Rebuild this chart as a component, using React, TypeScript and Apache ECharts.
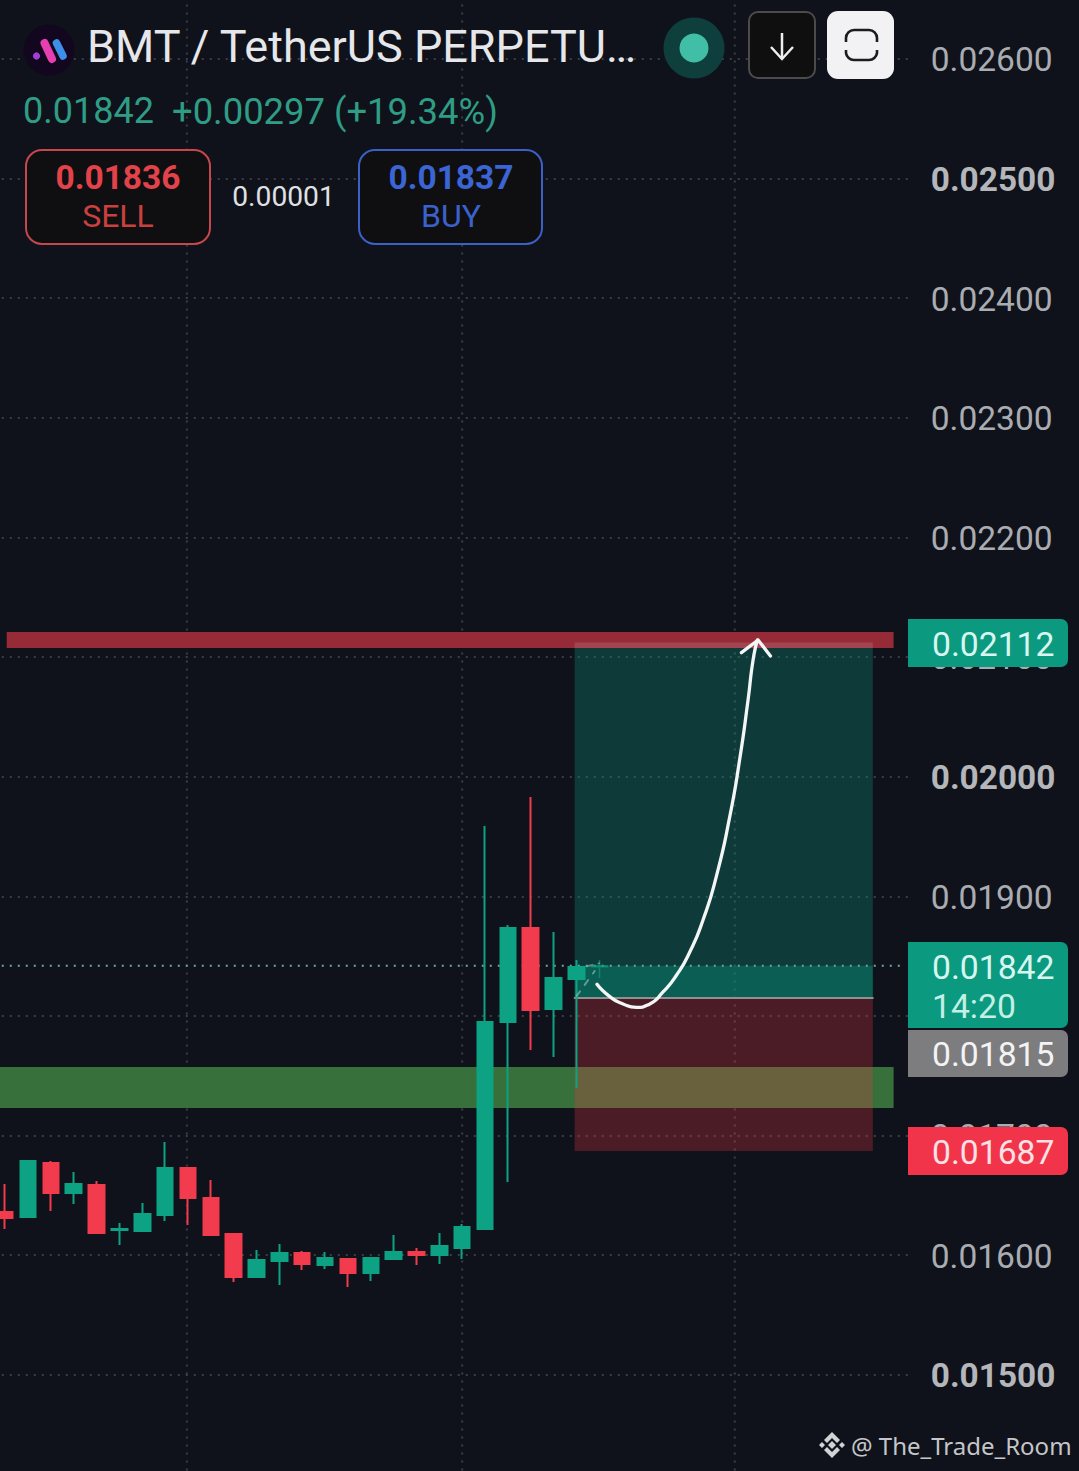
import React, { useEffect, useRef } from "react";
import * as echarts from "echarts";

// ---- chart data ----
const slots = ["0","1","2","3","4","5","6","7","8","9","10","11","12","13","14","15","16","17","18","19","20","21","22","23","24","25","26","27","28","29","30","31","32","33","34","35","36","37","38","39"];
// [open, close, low, high]
const candles = [
  [0.016361, 0.016311, 0.016219, 0.016595],
  [0.01632, 0.016788, 0.016312, 0.016796],
  [0.016771, 0.01652, 0.01637, 0.016788],
  [0.01652, 0.016595, 0.016428, 0.016696],
  [0.016587, 0.016186, 0.016178, 0.01662],
  [0.016211, 0.016219, 0.016086, 0.016269],
  [0.016203, 0.016345, 0.016194, 0.016437],
  [0.016336, 0.016729, 0.016286, 0.016946],
  [0.016729, 0.016478, 0.016253, 0.016729],
  [0.016478, 0.016169, 0.016161, 0.016629],
  [0.016178, 0.015818, 0.015776, 0.016186],
  [0.015818, 0.01596, 0.015818, 0.016044],
  [0.015952, 0.016019, 0.015751, 0.016094],
  [0.016019, 0.015927, 0.015877, 0.016035],
  [0.015918, 0.015977, 0.015885, 0.016027],
  [0.015969, 0.015852, 0.015735, 0.015977],
  [0.015852, 0.015977, 0.015785, 0.015977],
  [0.015969, 0.016027, 0.015969, 0.016169],
  [0.016027, 0.016002, 0.015918, 0.01606],
  [0.016002, 0.016077, 0.015927, 0.016186],
  [0.01606, 0.016236, 0.015969, 0.016261],
  [0.016219, 0.017949, 0.016219, 0.019587],
  [0.017949, 0.018735, 0.016612, 0.01876],
  [0.018735, 0.01805, 0.017715, 0.019829],
  [0.018058, 0.018317, 0.017657, 0.018701],
  [0.018309, 0.018409, 0.017398, 0.018467],
];
const liveCandle = [0.01841, 0.01842, 0.018317, 0.018467];
const verticalGridSlots = [7.95, 20.0, 31.93];
const priceFloor = 0.014;
const priceCeiling = 0.027;
const lastPrice = 0.01842;
const lastPriceLine = [[-0.5, lastPrice], [39.4, lastPrice]];
// trade levels
const takeProfit = 0.02112;
const entryPrice = 0.01815;
const stopLoss = 0.01687;
// [slot start, slot end, upper price, lower price]
const resistanceBand = [0.066, 38.88, 0.021209, 0.021075];
const supportBand = [-0.5, 38.88, 0.017573, 0.01723];
const profitZone = [24.92, 37.97, takeProfit, entryPrice];
const lossZone = [24.92, 37.97, entryPrice, stopLoss];
const openProfitZone = [24.92, 37.97, lastPrice, entryPrice];
const zoneBandOverlap = [24.92, 37.97, takeProfit, 0.021075];
// drawn path
const curvePath = [
  [25.9, 0.018264], [26.46, 0.018161], [27.04, 0.0181], [27.62, 0.018072], [28.21, 0.0181],
  [28.79, 0.0182], [29.37, 0.018338], [29.96, 0.018534], [30.54, 0.018802], [31.12, 0.019164],
  [31.71, 0.019665], [32.14, 0.020139], [32.51, 0.02064], [32.73, 0.020975], [32.92, 0.021142],
];
const arrowHead = [[32.22, 0.021036], [32.95, 0.021142], [33.49, 0.021008]];
const dashedTrail = [[25.0, 0.018165], [25.8, 0.018375]];
const dashedStub = [[25.45, 0.018415], [26.0, 0.01844]];
const entryLine = [[24.92, entryPrice], [37.97, entryPrice]];

const FONT = "Roboto";
const BG = "#0f121a";
const UP = "#0da284";
const DOWN = "#f23b4d";

const zone = (range: number[], fill: string, z: number) => ({
  type: "custom",
  xAxisIndex: 1,
  yAxisIndex: 0,
  z,
  silent: true,
  data: [range],
  encode: { x: [0, 1], y: [2, 3] },
  renderItem: (_p: any, api: any) => {
    const a = api.coord([api.value(0), api.value(2)]);
    const b = api.coord([api.value(1), api.value(3)]);
    return { type: "rect", shape: { x: a[0], y: a[1], width: b[0] - a[0], height: b[1] - a[1] }, style: { fill } };
  },
});

const path = (data: number[][], color: string, width: number, z: number, extra: any = {}) => ({
  type: "line",
  xAxisIndex: 1,
  yAxisIndex: 0,
  data,
  z,
  silent: true,
  symbol: "none",
  lineStyle: { color, width, cap: extra.cap ?? "round", join: "round", ...extra.lineStyle },
  smooth: extra.smooth ?? false,
});

const text = (t: string, x: number, y: number, size: number, fill: string, opt: any = {}) => ({
  type: "text",
  x,
  y,
  z: 100,
  silent: true,
  style: {
    text: t,
    fill,
    fontSize: size,
    fontFamily: opt.family ?? FONT,
    fontWeight: opt.weight ?? 400,
    align: opt.align ?? "left",
    textAlign: opt.align ?? "left",
    verticalAlign: "middle",
    textVerticalAlign: "middle",
  },
});

const roundRect = (x: number, y: number, w: number, h: number, r: any, fill: string, stroke?: string, lw = 2) => ({
  type: "rect",
  z: 99,
  silent: true,
  shape: { x, y, width: w, height: h, r },
  style: { fill, stroke, lineWidth: stroke ? lw : 0 },
});

const registerShapes = () => {
  echarts.graphic.registerShape(
    "scanIcon",
    echarts.graphic.extendPath("M846 42 V38 A8 8 0 0 1 854 30 H869 A8 8 0 0 1 877 38 V42 M846 50 V53 A8 8 0 0 0 854 60 H869 A8 8 0 0 0 877 53 V50", {})
  );
  echarts.graphic.registerShape(
    "bnbMark",
    echarts.graphic.extendPath(
      "M832 1432 L840 1440 L837 1443 L832 1438 L827 1443 L824 1440 Z M832 1458 L840 1450 L837 1447 L832 1452 L827 1447 L824 1450 Z M832 1441 L836 1445 L832 1449 L828 1445 Z M822 1442 L825 1445 L822 1448 L819 1445 Z M842 1442 L845 1445 L842 1448 L839 1445 Z",
      {}
    )
  );
};

export default function App() {
  const ref = useRef<HTMLDivElement>(null);
  useEffect(() => {
    document.body.style.margin = "0";
    document.body.style.background = BG;
    document.body.style.overflow = "hidden";
    registerShapes();
    const chart = echarts.init(ref.current!, undefined, { renderer: "svg" });
    const gridLine = { color: "#3c3e46", width: 2, type: [2, 6] as number[] };
    chart.setOption({
      animation: false,
      backgroundColor: BG,
      grid: { left: -6.23, top: -60.95, width: 914, height: 1555.45, outerBoundsMode: "none", containLabel: false },
      xAxis: [
        { type: "category", data: slots, show: false, boundaryGap: true },
        { type: "value", min: -0.5, max: 39.5, show: false, splitLine: { show: false } },
      ],
      yAxis: {
        type: "value",
        position: "right",
        min: priceFloor,
        max: priceCeiling,
        interval: 0.001,
        axisLine: { show: false },
        axisTick: { show: false },
        splitLine: { show: true, lineStyle: gridLine },
        axisLabel: {
          margin: 23,
          align: "left",
          padding: [2, 0, 0, 0],
          fontFamily: FONT,
          fontSize: 33.5,
          color: "#a9acb1",
          formatter: (v: number) => {
            if (v <= priceFloor + 1e-7 || v >= priceCeiling - 1e-7) return "";
            const s = v.toFixed(5);
            return Math.round(v * 1e5) % 500 === 0 ? `{b|${s}}` : s;
          },
          rich: { b: { fontFamily: FONT, fontSize: 33.4, fontWeight: 700, color: "#b4b6ba" } },
        },
      },
      series: [
        ...verticalGridSlots.map((s) =>
          path([[s, priceFloor], [s, priceCeiling]], gridLine.color, gridLine.width, 1, { cap: "butt", lineStyle: { type: gridLine.type } })
        ),
        zone(supportBand, "#37703a", 2),
        zone(profitZone, "rgba(12,153,129,0.3)", 3),
        zone(lossZone, "rgba(242,54,69,0.27)", 3),
        zone(openProfitZone, "rgba(8,153,129,0.38)", 3),
        zone(resistanceBand, "#962a36", 3),
        zone(zoneBandOverlap, "rgba(255,255,255,0.13)", 3),
        path(lastPriceLine, "#6fa89b", 2, 4, { cap: "butt", lineStyle: { type: [2, 6] } }),
        path(entryLine, "#8f9291", 2, 4),
        {
          type: "candlestick",
          xAxisIndex: 0,
          yAxisIndex: 0,
          z: 5,
          barWidth: 16,
          silent: true,
          itemStyle: { color: UP, color0: DOWN, borderColor: UP, borderColor0: DOWN, borderWidth: 2 },
          data: [
            ...candles,
            { value: liveCandle, itemStyle: { color: "rgba(13,162,132,0.6)", borderColor: "rgba(13,162,132,0.6)", borderWidth: 1.5 } },
          ],
        },
        path(dashedTrail, "rgba(120,190,170,0.7)", 2, 6, { lineStyle: { type: [6, 8] } }),
        path(dashedStub, "rgba(120,190,170,0.6)", 2, 6, { lineStyle: { type: [6, 6] } }),
        path(curvePath, "#f4f6f6", 3.3, 7, { smooth: 0.6 }),
        path(arrowHead, "#f4f6f6", 3.3, 7),
      ],
      graphic: [
        { type: "circle", z: 99, silent: true, shape: { cx: 49, cy: 50, r: 25.5 }, style: { fill: "#13071f" } },
        { type: "circle", z: 100, silent: true, shape: { cx: 36.5, cy: 56, r: 3.6 }, style: { fill: "#a23ed6" } },
        { type: "line", z: 100, silent: true, shape: { x1: 44.5, y1: 43, x2: 52, y2: 59 }, style: { stroke: "#e63fb0", lineWidth: 8, lineCap: "round" } },
        { type: "line", z: 100, silent: true, shape: { x1: 56.5, y1: 43, x2: 63, y2: 56 }, style: { stroke: "#3d8fea", lineWidth: 7.5, lineCap: "round" } },
        text("BMT / TetherUS PERPETU…", 87, 46, 45, "#e6e7ea"),
        text("0.01842", 23, 111, 36, "#2f9d85"),
        text("+0.00297 (+19.34%)", 172, 111, 36.4, "#2f9d85"),

        roundRect(26, 150, 184, 94, 16, "#0f0f11", "#c6474c"),
        text("0.01836", 118, 177, 33.5, "#e2434a", { align: "center", weight: 700 }),
        text("SELL", 118, 216, 32, "#c9403f", { align: "center" }),
        text("0.00001", 283.5, 196, 28.2, "#e0e1e4", { align: "center" }),
        roundRect(359, 150, 183, 94, 16, "#0f0f11", "#3b60c6"),
        text("0.01837", 451, 177, 33.5, "#3b64d4", { align: "center", weight: 700 }),
        text("BUY", 451, 216, 32, "#3b62cc", { align: "center" }),

        { type: "circle", z: 99, silent: true, shape: { cx: 694, cy: 48, r: 30.5 }, style: { fill: "#0f3f3c" } },
        { type: "circle", z: 100, silent: true, shape: { cx: 694, cy: 48, r: 14.5 }, style: { fill: "#41bfa6" } },
        roundRect(749, 12, 66, 66, 9, "#0f0f0f", "#4b4b4b"),
        { type: "polyline", z: 100, silent: true, shape: { points: [[782, 33], [782, 59]] }, style: { stroke: "#eeeeee", lineWidth: 2.5, fill: "none" } },
        { type: "polyline", z: 100, silent: true, shape: { points: [[771, 47], [782, 59], [793, 47]] }, style: { stroke: "#eeeeee", lineWidth: 2.5, fill: "none" } },
        roundRect(827, 11, 67, 68, 11, "#f2f2f4"),
        { type: "scanIcon", z: 100, silent: true, x: 0, y: 0, scaleX: 1, scaleY: 1, style: { stroke: "#1c1c1e", lineWidth: 2.6, fill: "none" } },

        roundRect(908, 619, 160, 48, [0, 7, 7, 0], "#0b9a80"),
        text(takeProfit.toFixed(5), 932, 644, 33.7, "#d8f6ef"),
        roundRect(908, 942, 160, 86, [0, 7, 7, 0], "#0b9a80"),
        text(lastPrice.toFixed(5), 932, 967, 33.7, "#d8f6ef"),
        text("14:20", 932, 1006, 33.7, "#c4efe5"),
        roundRect(908, 1030, 160, 47, [0, 7, 7, 0], "#7d7d7f"),
        text(entryPrice.toFixed(5), 932, 1054, 33.7, "#f3f3f3"),
        roundRect(908, 1127, 160, 48, [0, 7, 7, 0], "#f2344a"),
        text(stopLoss.toFixed(5), 932, 1152, 33.7, "#f9e1e4"),

        { type: "bnbMark", z: 100, silent: true, x: 0, y: 0, scaleX: 1, scaleY: 1, style: { fill: "#d2d3d6" } },
        text("@ The_Trade_Room", 851, 1445, 24, "#c4c6c9", { family: "Noto Sans" }),
      ],
    });
    return () => chart.dispose();
  }, []);
  return <div ref={ref} style={{ width: 1079, height: 1471 }} />;
}
